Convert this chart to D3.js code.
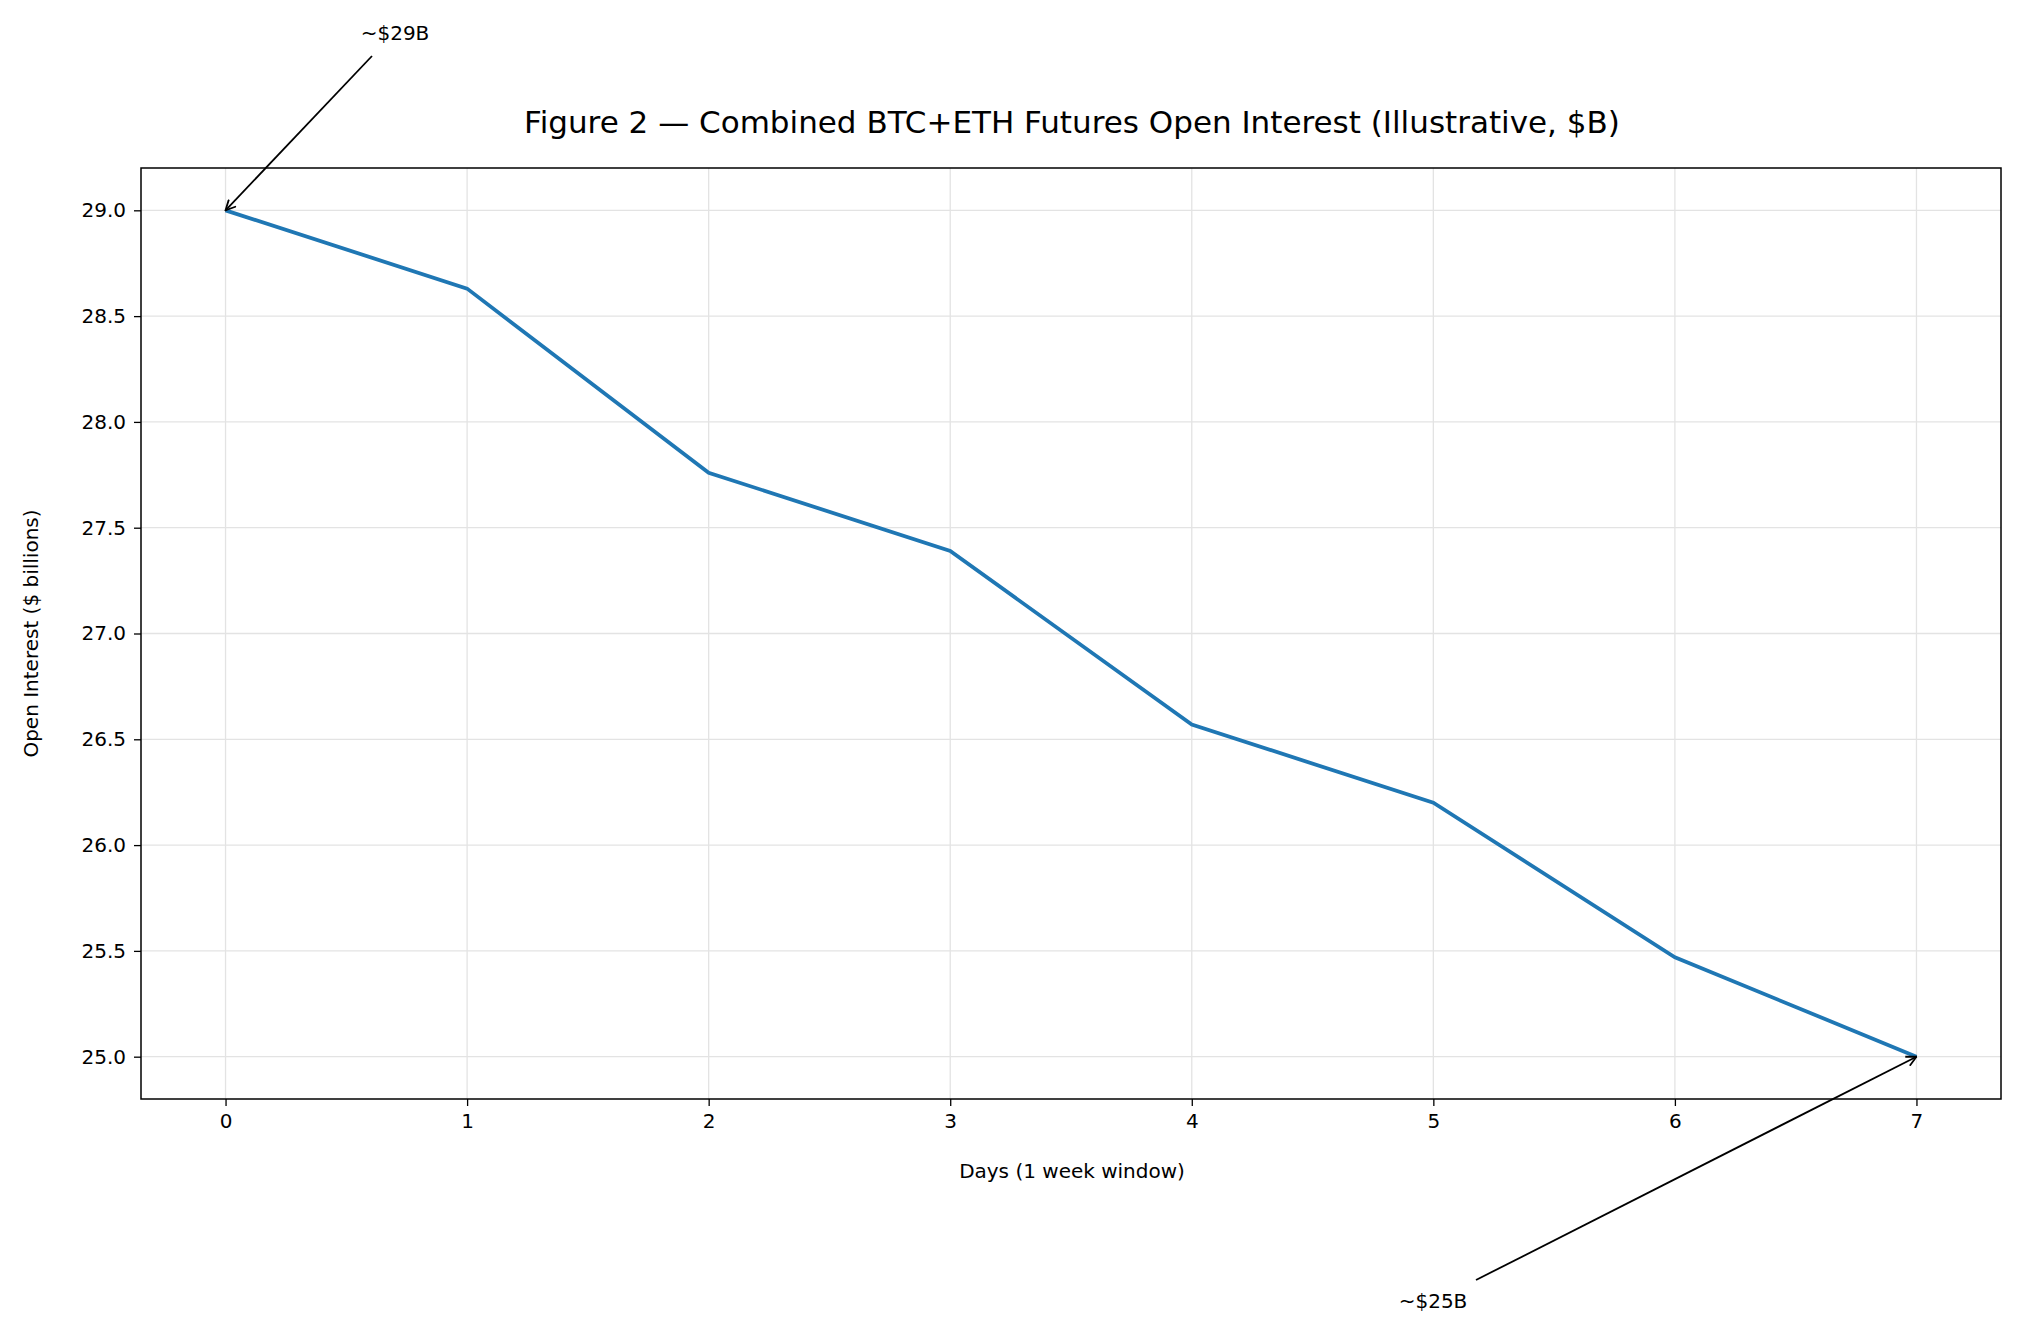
<!DOCTYPE html>
<html><head><meta charset="utf-8">
<script src="https://cdn.jsdelivr.net/npm/d3@7"></script>
<style>body{margin:0;background:#fff}text{font-family:"DejaVu Sans",sans-serif}</style>
</head><body><div id="quadros"></div>
<script>
var days = [0, 1, 2, 3, 4, 5, 6, 7];
var openInterest = [29.0, 28.63, 27.76, 27.39, 26.57, 26.2, 25.47, 25.0];
var yTicks = [25.0, 25.5, 26.0, 26.5, 27.0, 27.5, 28.0, 28.5, 29.0];

var width = 2020, height = 1328;
var plotLeft = 141, plotRight = 2001, plotTop = 168, plotBottom = 1099;

var svg = d3.select('#quadros').append('svg').attr('width', width).attr('height', height);

var x = d3.scaleLinear().domain([-0.35, 7.35]).range([plotLeft, plotRight]);
var y = d3.scaleLinear().domain([24.8, 29.2]).range([plotBottom, plotTop]);

// grid
svg.append('g').selectAll('line').data(days).join('line')
  .attr('x1', d => x(d)).attr('x2', d => x(d)).attr('y1', plotTop).attr('y2', plotBottom)
  .attr('stroke', '#e3e3e3').attr('stroke-width', 1.3);
svg.append('g').selectAll('line').data(yTicks).join('line')
  .attr('y1', d => y(d)).attr('y2', d => y(d)).attr('x1', plotLeft).attr('x2', plotRight)
  .attr('stroke', '#e3e3e3').attr('stroke-width', 1.3);

var xa = svg.append('g').attr('transform', 'translate(0,' + plotBottom + ')')
  .call(d3.axisBottom(x).tickValues(days).tickFormat(d3.format('d')).tickSize(7).tickPadding(8));
var ya = svg.append('g').attr('transform', 'translate(' + plotLeft + ',0)')
  .call(d3.axisLeft(y).tickValues(yTicks).tickFormat(d3.format('.1f')).tickSize(7).tickPadding(8));
[xa, ya].forEach(function (a) {
  a.select('.domain').remove();
  a.selectAll('text').style('font-size', '20px').style('font-family', 'DejaVu Sans').attr('fill', '#000');
  a.selectAll('line').attr('stroke', '#000').attr('stroke-width', 1.3);
});

svg.append('rect').attr('x', plotLeft).attr('y', plotTop).attr('width', plotRight - plotLeft).attr('height', plotBottom - plotTop)
  .attr('fill', 'none').attr('stroke', '#000').attr('stroke-width', 1.5);

var line = d3.line().x((d, i) => x(days[i])).y(d => y(d));
svg.append('path').datum(openInterest).attr('d', line)
  .attr('fill', 'none').attr('stroke', '#1f77b4').attr('stroke-width', 3.8);

// title and labels
svg.append('text').attr('x', 1072).attr('y', 133).attr('text-anchor', 'middle')
  .style('font-size', '31px').text('Figure 2 — Combined BTC+ETH Futures Open Interest (Illustrative, $B)');
svg.append('text').attr('x', 1072).attr('y', 1178).attr('text-anchor', 'middle')
  .style('font-size', '20px').text('Days (1 week window)');
svg.append('text').attr('transform', 'translate(38,' + ((plotTop + plotBottom) / 2) + ') rotate(-90)')
  .attr('text-anchor', 'middle').style('font-size', '20px').text('Open Interest ($ billions)');

// annotations
var defs = svg.append('defs');
defs.append('marker').attr('id', 'ah').attr('viewBox', '0 0 12 12').attr('refX', 11).attr('refY', 6)
  .attr('markerWidth', 12).attr('markerHeight', 12).attr('markerUnits', 'userSpaceOnUse').attr('orient', 'auto')
  .append('path').attr('d', 'M1,1 L11,6 L1,11').attr('fill', 'none').attr('stroke', '#000').attr('stroke-width', 1.8);

function annotate(i, tx, ty, sx, sy, label) {
  svg.append('line').attr('x1', sx).attr('y1', sy)
    .attr('x2', x(days[i])).attr('y2', y(openInterest[i]))
    .attr('stroke', '#000').attr('stroke-width', 1.8).attr('marker-end', 'url(#ah)');
  svg.append('text').attr('x', tx).attr('y', ty).attr('text-anchor', 'middle')
    .style('font-size', '20px').text(label);
}
annotate(0, 395, 40, 372, 56, '~$29B');
annotate(7, 1433, 1308, 1476, 1280, '~$25B');
</script>
</body></html>
